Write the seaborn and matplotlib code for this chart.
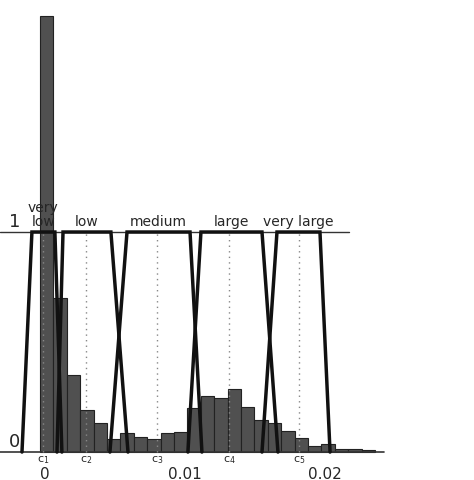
import numpy as np
import pandas as pd
import matplotlib
matplotlib.use("Agg")
import matplotlib.pyplot as plt
import seaborn as sns

sns.set_style("white")
plt.rcParams['font.family'] = ['DejaVu Sans']

bin_start = -0.00036
bin_width = 0.000957
heights = [1.98, 0.70, 0.35, 0.19, 0.13, 0.06, 0.085, 0.07, 0.06, 0.085, 0.09,
           0.20, 0.255, 0.245, 0.285, 0.205, 0.145, 0.13, 0.095, 0.063, 0.028,
           0.035, 0.014, 0.012, 0.008]
mf_names = ["very\nlow", "low", "medium", "large", "very large"]
mf_points = [
    [-0.00164, -0.00093, 0.00071, 0.00121],
    [0.00086, 0.00129, 0.00471, 0.00593],
    [0.00464, 0.00586, 0.01036, 0.01121],
    [0.01021, 0.01114, 0.01550, 0.01664],
    [0.01550, 0.01657, 0.01964, 0.02036],
]
centers = [-0.00014, 0.00293, 0.00800, 0.01314, 0.01814]
center_labels = ["c$_1$", "c$_2$", "c$_3$", "c$_4$", "c$_5$"]
xticks = [0.0, 0.01, 0.02]
xtick_labels = ["0", "0.01", "0.02"]

n = len(heights)
edges = bin_start + bin_width * np.arange(n + 1)
mids = (edges[:-1] + edges[1:]) / 2
df = pd.DataFrame({"x": mids, "w": heights})

fig = plt.figure(figsize=(4.74, 4.81), dpi=100)
ax = fig.add_axes([0, 0, 1, 1])
sns.histplot(data=df, x="x", weights="w", binwidth=bin_width,
             binrange=(edges[0], edges[-1]), color="#505050", edgecolor="#222222",
             linewidth=0.8, alpha=1, ax=ax)
ax.set_xlim(-0.00321, 0.03064)
ax.set_ylim(-0.127, 2.059)
ax.axis("off")

ax.plot([-0.00321, 0.0242], [0, 0], color="#333", lw=1.2)
ax.plot([-0.00321, 0.0217], [1, 1], color="#333", lw=1.0)
ax.text(-0.0026, 1.01, "1", fontsize=13, va="bottom", ha="left")
ax.text(-0.0026, 0.01, "0", fontsize=13, va="bottom", ha="left")

for c, lab in zip(centers, center_labels):
    ax.plot([c, c], [0, 1], color="#888", lw=1, ls=(0, (1, 3)))
    ax.text(c, -0.005, lab, fontsize=8, ha="center", va="top")
for t, lab in zip(xticks, xtick_labels):
    ax.text(t, -0.065, lab, fontsize=11, ha="center", va="top")

for name, p in zip(mf_names, mf_points):
    ax.plot(p, [0, 1, 1, 0], color="#111", lw=2.5, solid_joinstyle="miter")
    ax.text((p[1] + p[2]) / 2, 1.02, name, fontsize=10, ha="center", va="bottom",
            linespacing=1.0)

fig.savefig("out.png", dpi=100)
